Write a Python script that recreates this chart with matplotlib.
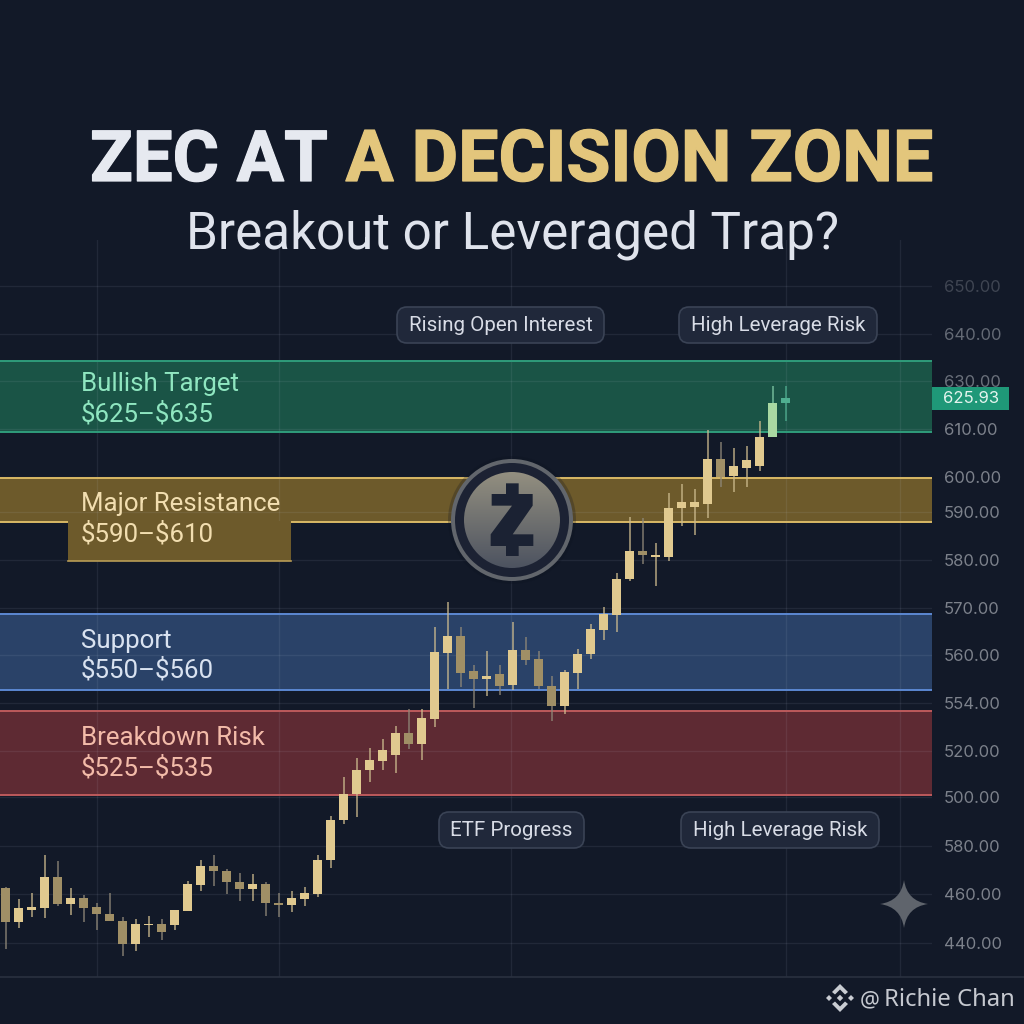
import numpy as np
import matplotlib
matplotlib.use("Agg")
import matplotlib.pyplot as plt
import matplotlib.patheffects as pe
from matplotlib.patches import Circle, FancyBboxPatch, Polygon, PathPatch, Rectangle
from matplotlib.path import Path

# ---------- chart data (vertical chart units, 1 unit = 1/1024 of picture height) ----------
wick_high = [137.3,124.7,131,169,163,135.7,129,120.7,131,107.3,104.7,108.3,105,114,143.3,163.7,168.7,155,150.7,150.3,
             142,130.7,132.7,137,168.7,207.7,247.3,266.3,275.7,285,298.3,314.7,314.7,397.3,422.3,397,358.7,372.7,359.3,401.7,
             387,372.7,347.7,354,375.3,400.3,416.7,450.7,507.3,505.7,480.7,530.7,539.7,534.7,593.7,582,575.7,578,603.3,638,638]
body_top  = [135.7,116,117.3,146.7,146.7,125.7,126,116.7,109.7,103.3,100.3,100.3,100,113.7,139.7,157.7,157.7,152.7,142,140,
             140,121,125.7,131,164,203.7,230,254.3,263.7,273.7,291.3,291,305.7,371.7,387.7,387.7,352.7,348,350,373.7,
             373.7,364.7,338.3,351.7,370,395,410,445.3,473,473,469.3,516,522,522.3,565.3,565.3,557.7,564,586.7,621,625.7]
body_bot  = [102.3,102.3,114.3,115.7,119.7,120.3,115.7,109.7,103,80.3,80.3,98.7,91.7,98.7,113.3,138.7,153.3,142,135,134.7,
             120.7,119,119,125.3,130.3,163.7,204,230,254.3,262.7,268.7,279.7,280.3,305.3,371,351,344.7,344.7,338,338.7,
             364,337.7,317.7,317.7,351.3,370,394,409,445,469,467,467.3,515.7,516.7,519.7,547,548,556.3,558.3,587,621.3]
wick_low  = [75,96.3,107.3,106.3,117.7,109.3,101.7,93.7,103,68.3,73.3,87.3,84,94.3,113.3,133.3,138.3,130,123.3,123,
             107.7,107,111.7,118,126.7,156.3,199.7,207.3,241.7,254,251,275.3,264,297.3,334.7,337,316,328,329,334,
             359.3,334.7,302.7,309.7,335.3,365,383.7,392.3,443.3,459.7,438,462.7,498,489.3,506,537.3,532.3,536.7,553.3,587,603]
candle_kind = list("DLLLDLDDDDLLDLLLDDDLDDLLLLLLLLLDLLLDDLDLDDDLLLLLLDLLLLLDLLLGT")

tick_positions = [738,690,643,595,547,512,464,416,369,321,273,227,178,130,81]
tick_labels = ["650.00","640.00","630.00","610.00","600.00","590.00","580.00","570.00",
               "560.00","554.00","520.00","500.00","580.00","460.00","440.00"]
tick_colors = ["#3f4552","#646a75","#6a707b","#7c818b","#7c818b","#7c818b","#7c818b","#7c818b",
               "#7c818b","#7c818b","#7c818b","#7c818b","#7c818b","#7c818b","#7c818b"]
vertical_grid = [7.0, 21.0, 38.9, 60.0, 68.8]

band_names  = ["Bullish Target","Major Resistance","Support","Breakdown Risk"]
band_ranges = [r"\$625–\$635",r"\$590–\$610",r"\$550–\$560",r"\$525–\$535"]
band_low    = [592,502,334,229]
band_high   = [663,546,410,313]
band_fill   = ["#1a5446","#6d5a2b","#2a4268","#5e2a33"]
band_edge   = ["#2f9c7b","#d8b865","#5c88d2","#bd5a5c"]
band_text   = ["#8fe6c0","#f2deb0","#d9e2f0","#f3bba9"]
band_base   = [(391,421),(511,542),(648,678),(745,775)]

last_price = "625.93"
pills = [("Rising Open Interest",397,604,307,343),("High Leverage Risk",679,877,307,343),
         ("ETF Progress",439,584,812,848),("High Leverage Risk",681,879,812,848)]

BG = "#121928"
plt.rcParams["font.family"] = ["Roboto","DejaVu Sans"]
fig = plt.figure(figsize=(10.24,10.24), dpi=100, facecolor=BG)
W = 1024

# ---------- main chart axes ----------
ax = fig.add_axes([0, 47/W, 932/W, 737/W], facecolor="none")
ax.set_xlim(-5.7/13, (932-5.7)/13)
ax.set_ylim(47, 784)
ax.set_axisbelow(True)
for s in ["top","left","right","bottom"]:
    ax.spines[s].set_visible(False)
ax.yaxis.tick_right()
ax.set_yticks(tick_positions)
ax.set_yticklabels(tick_labels, fontsize=12, family=["Inter","DejaVu Sans"])
for lab, c in zip(ax.get_yticklabels(), tick_colors):
    lab.set_color(c)
ax.tick_params(axis="y", length=0, pad=8.6)
ax.set_xticks(vertical_grid)
ax.tick_params(axis="x", length=0, labelbottom=False)
ax.grid(True, color="#c8d2e6", alpha=0.085, linewidth=1)

for lo, hi, f, e in zip(band_low, band_high, band_fill, band_edge):
    ax.axhspan(lo, hi, facecolor=f, edgecolor="none", zorder=0.3)
    ax.axhline(lo, color=e, lw=1.4, zorder=0.6)
    ax.axhline(hi, color=e, lw=1.4, zorder=0.6)

body_col = {"L":"#e0c98f","D":"#a08f66","G":"#a9d8a2","T":"#4fae90"}
wick_col = {"L":"#cdbb8e","D":"#8f8878","G":"#7fc9a6","T":"#4fae90"}
idx = np.arange(len(wick_high))
for k in body_col:
    m = np.array([c == k for c in candle_kind])
    ax.vlines(idx[m], np.array(wick_low)[m], np.array(wick_high)[m], color=wick_col[k], lw=1.2, alpha=0.8, zorder=3)
    ax.bar(idx[m], np.array(body_top)[m]-np.array(body_bot)[m], bottom=np.array(body_bot)[m], width=0.72,
           color=body_col[k], edgecolor="none", zorder=4)

# ---------- overlay in picture coordinates ----------
ov = fig.add_axes([0,0,1,1], facecolor="none")
ov.set_xlim(0,W); ov.set_ylim(W,0); ov.axis("off")

# bottom rule across the whole picture
ov.plot([0,W],[977,977],color="#2a3140",lw=1.2,zorder=1)

# gold tag beneath the resistance band
ov.add_patch(Rectangle((68,520.5),223,40.5,facecolor=band_fill[1],edgecolor="none",zorder=2))
ov.plot([68,291],[561,561],color="#b89c55",lw=1.2,zorder=2)

# titles
t1 = ov.text(90,181,"ZEC AT",color="#e6e9f0",fontsize=50.9,fontweight="bold",va="baseline",ha="left")
t2 = ov.text(933,181,"A DECISION ZONE",color="#e3c67c",fontsize=51.6,fontweight="bold",va="baseline",ha="right")
t1.set_path_effects([pe.withStroke(linewidth=0.9,foreground="#e6e9f0")])
t2.set_path_effects([pe.withStroke(linewidth=0.9,foreground="#e3c67c")])
ov.text(512,248,"Breakout or Leveraged Trap?",color="#dfe3ec",fontsize=36.8,va="baseline",ha="center")

for name, rng, col, (b1,b2) in zip(band_names, band_ranges, band_text, band_base):
    ov.text(81,b1,name,color=col,fontsize=18.6,va="baseline",ha="left",zorder=5)
    ov.text(81,b2,rng,color=col,fontsize=18.6,va="baseline",ha="left",zorder=5)

for txt,x0,x1,y0,y1 in pills:
    ov.add_patch(FancyBboxPatch((x0+10,y0+10),x1-x0-20,y1-y0-20,boxstyle="round,pad=10,rounding_size=10",
                 facecolor="#20283a",edgecolor="#3a4355",lw=1.2,zorder=5))
    ov.text((x0+x1)/2,(y0+y1)/2+0.5,txt,color="#d8dce6",fontsize=14.75,va="center",ha="center",zorder=6)

# last price tag
ov.add_patch(Rectangle((932,387),77,23,facecolor="#1f9878",edgecolor="none",zorder=5))
ov.text(971.5,398.5,last_price,color="#e4f4ee",fontsize=12,family=["Inter","DejaVu Sans"],va="center",ha="center",zorder=6)

# coin
cx, cy = 512, 520
ov.add_patch(Circle((cx,cy),64,facecolor="#0d1220",alpha=0.25,edgecolor="none",zorder=6))
ov.add_patch(Circle((cx,cy),61,facecolor="#62666c",edgecolor="none",zorder=7))
ov.add_patch(Circle((cx,cy),57,facecolor="#1c2233",edgecolor="none",zorder=7))
grad = np.linspace(0,1,100)[:,None]
c0, c1 = np.array([0x93,0x8f,0x80])/255, np.array([0x4d,0x53,0x60])/255
img = (c0[None,None,:]*(1-grad[:,:,None]) + c1[None,None,:]*grad[:,:,None])
im = ov.imshow(img, extent=(cx-48,cx+48,cy+48,cy-48), aspect="auto", zorder=8)
im.set_clip_path(Circle((cx,cy),48,transform=ov.transData))
ov.set_xlim(0,W); ov.set_ylim(W,0)
z = [(258,130),(296,130),(296,162),(338,162),(338,197),(278,283),(340,283),(340,318),(296,318),(296,348),
     (258,348),(258,318),(212,318),(212,283),(276,197),(215,197),(215,162),(258,162)]
ov.add_patch(Polygon([(420+a/3,440+b/3) for a,b in z],closed=True,facecolor="#1b2233",edgecolor="none",zorder=9))

# sparkle
sx, sy, r = 904, 904, 24
verts = [(sx,sy-r),(sx+3,sy-3),(sx+r,sy),(sx+3,sy+3),(sx,sy+r),(sx-3,sy+3),(sx-r,sy),(sx-3,sy-3),(sx,sy-r)]
codes = [Path.MOVETO]+[Path.CURVE3]*8
ov.add_patch(PathPatch(Path(verts,codes),facecolor="#5f646c",edgecolor="none",zorder=5))

# watermark logo
lx, ly = 840, 998
lc = "#c9ccd2"
def dia(x,y,s):
    ov.add_patch(Polygon([(x,y-s),(x+s,y),(x,y+s),(x-s,y)],closed=True,facecolor=lc,edgecolor="none",zorder=6))
dia(lx-11,ly,3); dia(lx+11,ly,3); dia(lx,ly,3.2)
ov.add_patch(Polygon([(lx,ly-14),(lx+8,ly-6),(lx+5,ly-3.5),(lx,ly-8.5),(lx-5,ly-3.5),(lx-8,ly-6)],closed=True,facecolor=lc,edgecolor="none",zorder=6))
ov.add_patch(Polygon([(lx,ly+14),(lx+8,ly+6),(lx+5,ly+3.5),(lx,ly+8.5),(lx-5,ly+3.5),(lx-8,ly+6)],closed=True,facecolor=lc,edgecolor="none",zorder=6))
ov.text(860,1006,"@",color="#c5c8cf",fontsize=16,family=["Noto Sans","DejaVu Sans"],va="baseline",ha="left",zorder=6)
ov.text(1015,1006,"Richie Chan",color="#c5c8cf",fontsize=17.2,family=["Noto Sans","DejaVu Sans"],va="baseline",ha="right",zorder=6)

fig.savefig("out.png", dpi=100, facecolor=BG)
